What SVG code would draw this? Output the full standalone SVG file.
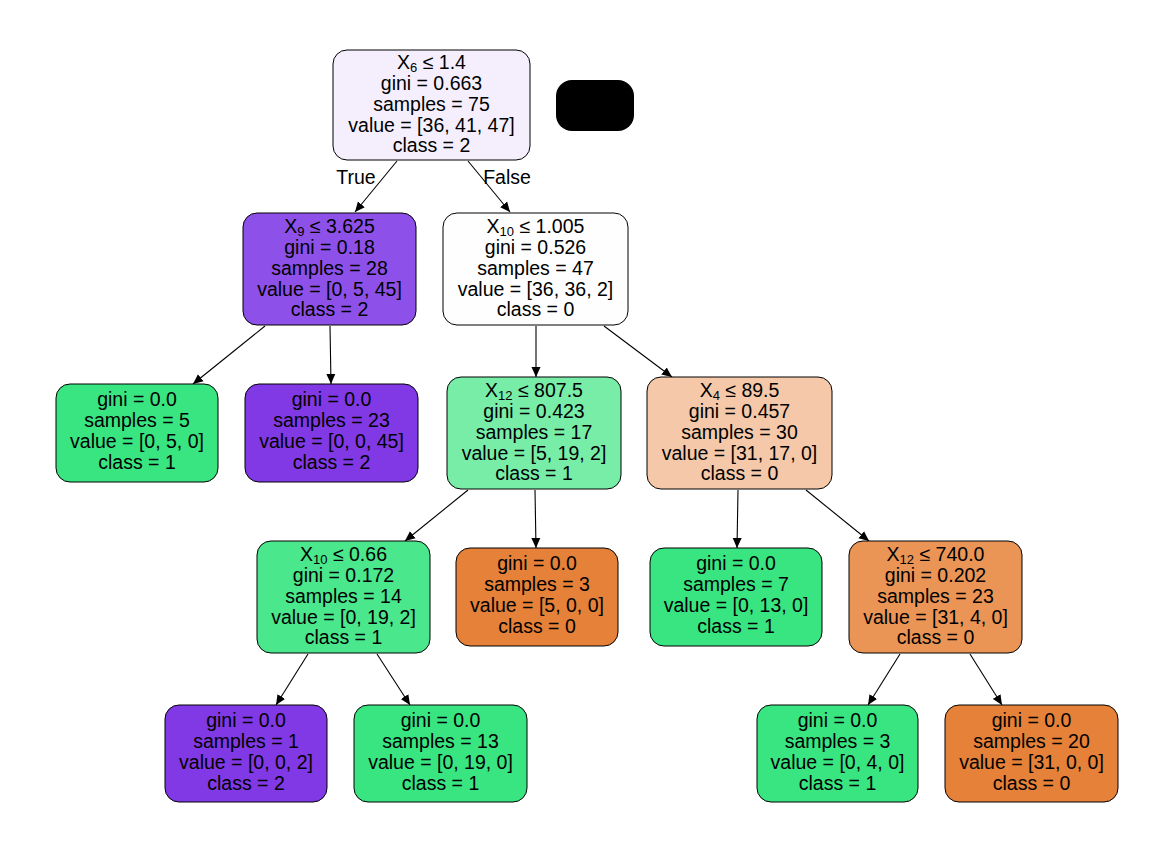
<svg xmlns="http://www.w3.org/2000/svg" width="1173" height="842" viewBox="0 0 1173 842">
<style>
rect.n{stroke:#000;stroke-width:1}
text{font-family:"Liberation Sans",Arial,sans-serif;font-size:19.5px;fill:#000;text-anchor:middle}
.c line{stroke:#000;stroke-width:1.1;marker-end:url(#ah)}
.s{font-size:13px}
</style>
<defs><marker id="ah" markerWidth="10" markerHeight="10" refX="10" refY="5" orient="auto" markerUnits="userSpaceOnUse"><path d="M0,0.5 L10,5 L0,9.5 z" fill="#000"/></marker></defs>
<rect width="1173" height="842" fill="#fff"/>
<g class="c">
<line x1="397" y1="161" x2="355" y2="212"/>
<line x1="468" y1="161" x2="510" y2="212"/>
<line x1="265" y1="326" x2="193" y2="384"/>
<line x1="330" y1="326" x2="331" y2="384"/>
<line x1="536" y1="326" x2="536" y2="377"/>
<line x1="604" y1="326" x2="672" y2="377"/>
<line x1="468" y1="490" x2="405" y2="541"/>
<line x1="535" y1="490" x2="536" y2="548"/>
<line x1="738" y1="490" x2="737" y2="548"/>
<line x1="806" y1="490" x2="869" y2="541"/>
<line x1="308" y1="654" x2="276" y2="705"/>
<line x1="377" y1="654" x2="410" y2="705"/>
<line x1="900" y1="654" x2="868" y2="705"/>
<line x1="970" y1="654" x2="1002" y2="705"/>
<text x="356" y="184">True</text>
<text x="507" y="184">False</text>
</g>
<g id="legend"><rect x="556" y="80" width="78" height="51" rx="16" fill="#000"/></g>
<g id="n0"><rect class="n" x="333" y="50" width="197" height="110" rx="14" fill="#f5effd"/>
<text x="431.5" y="69">X<tspan class="s" dy="3">6</tspan><tspan dy="-3"> ≤ 1.4</tspan></text><text x="431.5" y="90">gini = 0.663</text><text x="431.5" y="111">samples = 75</text><text x="431.5" y="132">value = [36, 41, 47]</text><text x="431.5" y="152">class = 2</text></g>
<g id="n1"><rect class="n" x="243" y="213" width="173" height="112" rx="14" fill="#8d51e9"/>
<text x="329.5" y="233">X<tspan class="s" dy="3">9</tspan><tspan dy="-3"> ≤ 3.625</tspan></text><text x="329.5" y="254">gini = 0.18</text><text x="329.5" y="275">samples = 28</text><text x="329.5" y="296">value = [0, 5, 45]</text><text x="329.5" y="316">class = 2</text></g>
<g id="n2"><rect class="n" x="443" y="213" width="185" height="112" rx="14" fill="#fffefe"/>
<text x="535.5" y="233">X<tspan class="s" dy="3">10</tspan><tspan dy="-3"> ≤ 1.005</tspan></text><text x="535.5" y="254">gini = 0.526</text><text x="535.5" y="275">samples = 47</text><text x="535.5" y="296">value = [36, 36, 2]</text><text x="535.5" y="316">class = 0</text></g>
<g id="n3"><rect class="n" x="56" y="384" width="162" height="98" rx="14" fill="#39e581"/>
<text x="137" y="406">gini = 0.0</text><text x="137" y="427">samples = 5</text><text x="137" y="448">value = [0, 5, 0]</text><text x="137" y="469">class = 1</text></g>
<g id="n4"><rect class="n" x="245" y="384" width="173" height="98" rx="14" fill="#8139e5"/>
<text x="331.5" y="406">gini = 0.0</text><text x="331.5" y="427">samples = 23</text><text x="331.5" y="448">value = [0, 0, 45]</text><text x="331.5" y="469">class = 2</text></g>
<g id="n5"><rect class="n" x="447" y="377" width="174" height="112" rx="14" fill="#78eda8"/>
<text x="534" y="397">X<tspan class="s" dy="3">12</tspan><tspan dy="-3"> ≤ 807.5</tspan></text><text x="534" y="418">gini = 0.423</text><text x="534" y="439">samples = 17</text><text x="534" y="460">value = [5, 19, 2]</text><text x="534" y="480">class = 1</text></g>
<g id="n6"><rect class="n" x="647" y="377" width="185" height="112" rx="14" fill="#f4c8a8"/>
<text x="739.5" y="397">X<tspan class="s" dy="3">4</tspan><tspan dy="-3"> ≤ 89.5</tspan></text><text x="739.5" y="418">gini = 0.457</text><text x="739.5" y="439">samples = 30</text><text x="739.5" y="460">value = [31, 17, 0]</text><text x="739.5" y="480">class = 0</text></g>
<g id="n7"><rect class="n" x="257" y="541" width="173" height="112" rx="14" fill="#4ae78c"/>
<text x="343.5" y="561">X<tspan class="s" dy="3">10</tspan><tspan dy="-3"> ≤ 0.66</tspan></text><text x="343.5" y="582">gini = 0.172</text><text x="343.5" y="603">samples = 14</text><text x="343.5" y="624">value = [0, 19, 2]</text><text x="343.5" y="644">class = 1</text></g>
<g id="n8"><rect class="n" x="456" y="548" width="162" height="98" rx="14" fill="#e58139"/>
<text x="537" y="570">gini = 0.0</text><text x="537" y="591">samples = 3</text><text x="537" y="612">value = [5, 0, 0]</text><text x="537" y="633">class = 0</text></g>
<g id="n9"><rect class="n" x="650" y="548" width="172" height="98" rx="14" fill="#39e581"/>
<text x="736" y="570">gini = 0.0</text><text x="736" y="591">samples = 7</text><text x="736" y="612">value = [0, 13, 0]</text><text x="736" y="633">class = 1</text></g>
<g id="n10"><rect class="n" x="849" y="541" width="173" height="112" rx="14" fill="#ea9456"/>
<text x="935.5" y="561">X<tspan class="s" dy="3">12</tspan><tspan dy="-3"> ≤ 740.0</tspan></text><text x="935.5" y="582">gini = 0.202</text><text x="935.5" y="603">samples = 23</text><text x="935.5" y="624">value = [31, 4, 0]</text><text x="935.5" y="644">class = 0</text></g>
<g id="n11"><rect class="n" x="165" y="705" width="162" height="97" rx="14" fill="#8139e5"/>
<text x="246" y="727">gini = 0.0</text><text x="246" y="748">samples = 1</text><text x="246" y="769">value = [0, 0, 2]</text><text x="246" y="790">class = 2</text></g>
<g id="n12"><rect class="n" x="354" y="705" width="173" height="97" rx="14" fill="#39e581"/>
<text x="440.5" y="727">gini = 0.0</text><text x="440.5" y="748">samples = 13</text><text x="440.5" y="769">value = [0, 19, 0]</text><text x="440.5" y="790">class = 1</text></g>
<g id="n13"><rect class="n" x="757" y="705" width="161" height="97" rx="14" fill="#39e581"/>
<text x="837.5" y="727">gini = 0.0</text><text x="837.5" y="748">samples = 3</text><text x="837.5" y="769">value = [0, 4, 0]</text><text x="837.5" y="790">class = 1</text></g>
<g id="n14"><rect class="n" x="945" y="705" width="173" height="97" rx="14" fill="#e58139"/>
<text x="1031.5" y="727">gini = 0.0</text><text x="1031.5" y="748">samples = 20</text><text x="1031.5" y="769">value = [31, 0, 0]</text><text x="1031.5" y="790">class = 0</text></g>
</svg>
